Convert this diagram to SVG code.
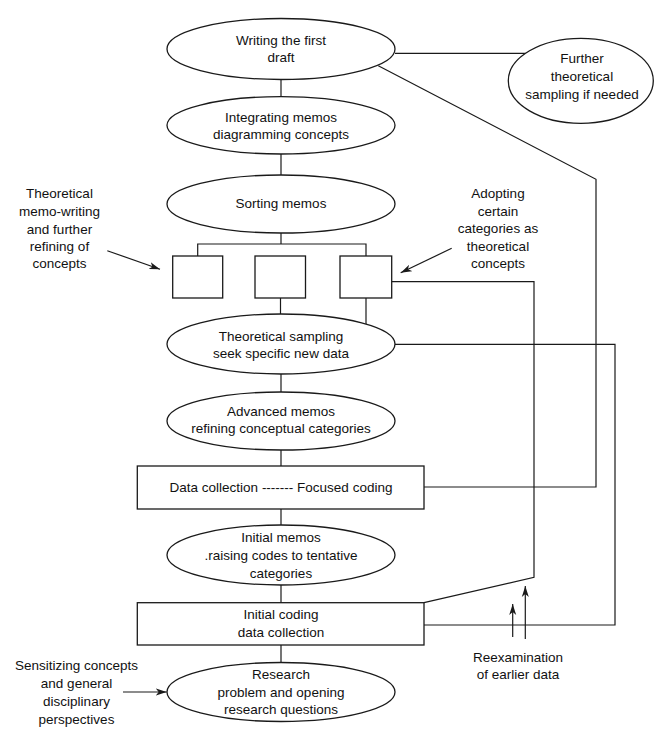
<svg xmlns="http://www.w3.org/2000/svg" width="660" height="732" viewBox="0 0 660 732">
<defs>
<style>
.n{fill:#fff;stroke:#1a1a1a;stroke-width:1.3}
.c{fill:none;stroke:#1a1a1a;stroke-width:1.2}
.a{fill:none;stroke:#1a1a1a;stroke-width:1.2;marker-end:url(#ah)}
text{font-family:"Liberation Sans",Arial,sans-serif;font-size:13.5px;fill:#111;text-anchor:middle}
</style>
<marker id="ah" markerUnits="userSpaceOnUse" markerWidth="12" markerHeight="8" refX="11" refY="4" orient="auto">
<path d="M0,0.5 L11,4 L0,7.5 L3,4 Z" fill="#1a1a1a"/>
</marker>
</defs>
<rect width="660" height="732" fill="#fff"/>
<g id="connectors">
<path class="c" d="M281,79.5 V96.7"/>
<path class="c" d="M281,154 V175"/>
<path class="c" d="M281,233 V244"/>
<path class="c" d="M197.7,256 V244 H366 V256"/>
<path class="c" d="M280.5,298 V314"/>
<path class="c" d="M366,298 V324.5"/>
<path class="c" d="M281,374 V392"/>
<path class="c" d="M281,450 V466"/>
<path class="c" d="M281,509 V525"/>
<path class="c" d="M281,585 V603"/>
<path class="c" d="M281,645 V662.5"/>
<path class="c" d="M395,53.3 H525.5"/>
<path class="c" d="M378.3,65.7 L596,179.3 V487 H424"/>
<path class="c" d="M391.7,281.7 H534 V577.3 L424,602.7"/>
<path class="c" d="M395,344.3 H615 V625 H424"/>
<path class="a" d="M107.3,250.7 L160,269.3"/>
<path class="a" d="M451.7,248.3 L400.7,272.7"/>
<path class="a" d="M123,692 L166.7,692"/>
<path class="a" d="M512.7,637 V604"/>
<path class="a" d="M525.3,639 V586"/>
</g>
<g id="writing-draft">
<ellipse class="n" cx="281" cy="49" rx="114" ry="30.5"/>
<text x="281" y="44.8">Writing the first</text>
<text x="281" y="62.1">draft</text>
</g>
<g id="further-sampling">
<ellipse class="n" cx="580.8" cy="80.8" rx="72.5" ry="42.5"/>
<text x="582" y="63.1">Further</text>
<text x="582" y="80.8">theoretical</text>
<text x="582" y="98.8">sampling if needed</text>
</g>
<g id="integrating-memos">
<ellipse class="n" cx="281" cy="125.3" rx="114" ry="28.7"/>
<text x="281" y="121.5">Integrating memos</text>
<text x="281" y="138.8">diagramming concepts</text>
</g>
<g id="sorting-memos">
<ellipse class="n" cx="281" cy="204" rx="114" ry="29"/>
<text x="281" y="207.8">Sorting memos</text>
</g>
<g id="box1"><rect class="n" x="172.7" y="256" width="50" height="42"/></g>
<g id="box2"><rect class="n" x="255" y="256" width="50.5" height="42"/></g>
<g id="box3"><rect class="n" x="340" y="256" width="51.7" height="42"/></g>
<g id="label-memo-writing">
<text x="59.5" y="198.1">Theoretical</text>
<text x="59.5" y="216">memo-writing</text>
<text x="59.5" y="233.6">and further</text>
<text x="59.5" y="251.1">refining of</text>
<text x="59.5" y="268.4">concepts</text>
</g>
<g id="label-adopting">
<text x="498" y="197.5">Adopting</text>
<text x="498" y="215.5">certain</text>
<text x="498" y="233.1">categories as</text>
<text x="498" y="250.8">theoretical</text>
<text x="498" y="268.1">concepts</text>
</g>
<g id="theoretical-sampling">
<ellipse class="n" cx="281" cy="344" rx="114" ry="30"/>
<text x="281" y="340.5">Theoretical sampling</text>
<text x="281" y="357.8">seek specific new data</text>
</g>
<g id="advanced-memos">
<ellipse class="n" cx="281" cy="421" rx="114" ry="29"/>
<text x="281" y="415.8">Advanced memos</text>
<text x="281" y="433.3">refining conceptual categories</text>
</g>
<g id="data-collection">
<rect class="n" x="137.3" y="466" width="286.7" height="43"/>
<text x="281" y="491.8">Data collection ------- Focused coding</text>
</g>
<g id="initial-memos">
<ellipse class="n" cx="281" cy="555" rx="114" ry="30"/>
<text x="281" y="541.5">Initial memos</text>
<text x="281" y="559.8">.raising codes to tentative</text>
<text x="281" y="577.5">categories</text>
</g>
<g id="initial-coding">
<rect class="n" x="137.3" y="602.7" width="286.7" height="42.3"/>
<text x="281" y="618.8">Initial coding</text>
<text x="281" y="636.5">data collection</text>
</g>
<g id="research">
<ellipse class="n" cx="281" cy="692" rx="114" ry="29.5"/>
<text x="281" y="679.1">Research</text>
<text x="281" y="696.5">problem and opening</text>
<text x="281" y="714.1">research questions</text>
</g>
<g id="label-sensitizing">
<text x="76.5" y="669.8">Sensitizing concepts</text>
<text x="76.5" y="687.5">and general</text>
<text x="76.5" y="705.8">disciplinary</text>
<text x="76.5" y="723.8">perspectives</text>
</g>
<g id="label-reexamination">
<text x="518" y="661.5">Reexamination</text>
<text x="518" y="678.8">of earlier data</text>
</g>
</svg>
